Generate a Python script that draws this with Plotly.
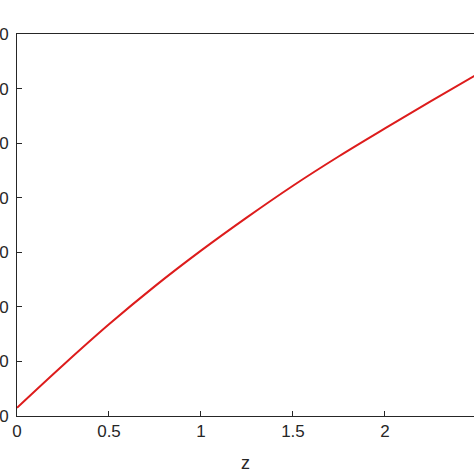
import plotly.graph_objects as go

# curve
z = [0, 0.25, 0.5, 0.75, 1.0, 1.25, 1.5, 1.75, 2.0, 2.25, 2.5]
y = [15, 93, 168, 238, 303, 364, 422, 476, 527, 577, 626]

x_ticks = [0, 0.5, 1, 1.5, 2, 2.5]
y_ticks = [0, 100, 200, 300, 400, 500, 600, 700]

axis_color = '#262626'
font_family = 'Liberation Sans, Arial, sans-serif'

fig = go.Figure()
fig.add_trace(go.Scatter(x=z, y=y, mode='lines', line_shape='spline',
                         line=dict(color='#dd1c1c', width=2), showlegend=False))

fig.update_layout(
    width=474, height=474,
    margin=dict(l=17, r=0, t=34, b=58),
    plot_bgcolor='white', paper_bgcolor='white',
    font=dict(family=font_family, size=17, color=axis_color),
)
fig.update_xaxes(
    range=[0, 2.484], tickvals=x_ticks, ticks='inside', ticklen=5,
    tickcolor=axis_color, showline=True, linecolor=axis_color, linewidth=1,
    mirror=True, showgrid=False, zeroline=False, automargin=False,
    title=dict(text='z', font=dict(size=18)),
)
fig.update_yaxes(
    range=[0, 700], tickvals=y_ticks, ticks='inside', ticklen=5,
    tickcolor=axis_color, showline=True, linecolor=axis_color, linewidth=1,
    showgrid=False, zeroline=False, automargin=False, ticklabelstandoff=4,
)

# drop the page margin so the figure sits in the corner
fig.write_html("out.html", config={'displayModeBar': False},
               post_script="document.body.style.margin = '0';")
